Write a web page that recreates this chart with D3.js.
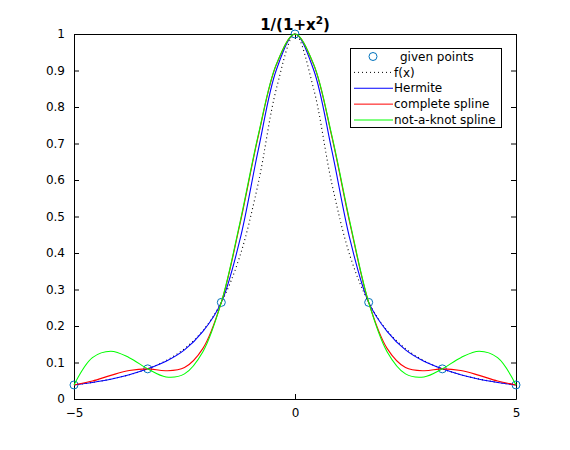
<!DOCTYPE html>
<html>
<head>
<meta charset="utf-8">
<script src="https://cdn.jsdelivr.net/npm/d3@7"></script>
<style>
  body { margin: 0; background: #fff; }
  svg { display: block; font-family: "DejaVu Sans", sans-serif; }
</style>
</head>
<body>
<svg id="chart" width="570" height="450"></svg>
<script>
// ---- data ----
const nodeX = [-5, -3.333, -1.667, 0, 1.667, 3.333, 5];
const nodeY = [0.0385, 0.0826, 0.2647, 1, 0.2647, 0.0826, 0.0385];

const xs = [-5, -4.583, -4.167, -3.75, -3.333, -2.917, -2.5, -2.083, -1.667, -1.25, -0.833, -0.417, 0,
            0.417, 0.833, 1.25, 1.667, 2.083, 2.5, 2.917, 3.333, 3.75, 4.167, 4.583, 5];
const fx = [0.0385, 0.0454, 0.0545, 0.0664, 0.0826, 0.1052, 0.1379, 0.1873, 0.2647, 0.3902, 0.5902, 0.8521, 1,
            0.8521, 0.5902, 0.3902, 0.2647, 0.1873, 0.1379, 0.1052, 0.0826, 0.0664, 0.0545, 0.0454, 0.0385];
const hermite = [0.0385, 0.0453, 0.0541, 0.0662, 0.0826, 0.1034, 0.1345, 0.1851, 0.2647, 0.4343, 0.6810, 0.9034, 1,
            0.9034, 0.6810, 0.4343, 0.2647, 0.1851, 0.1345, 0.1034, 0.0826, 0.0662, 0.0541, 0.0453, 0.0385];
const complete = [0.0385, 0.0492, 0.0647, 0.0781, 0.0826, 0.0774, 0.0862, 0.1388, 0.2647, 0.4767, 0.7187, 0.9175, 1,
            0.9175, 0.7187, 0.4767, 0.2647, 0.1388, 0.0862, 0.0774, 0.0826, 0.0781, 0.0647, 0.0492, 0.0385];
const notAKnot = [0.0385, 0.1132, 0.1308, 0.1133, 0.0826, 0.0604, 0.0688, 0.1296, 0.2647, 0.4806, 0.7221, 0.9188, 1,
            0.9188, 0.7221, 0.4806, 0.2647, 0.1296, 0.0688, 0.0604, 0.0826, 0.1133, 0.1308, 0.1132, 0.0385];

const xTicks = [-5, 0, 5];
const yTicks = [0, 0.1, 0.2, 0.3, 0.4, 0.5, 0.6, 0.7, 0.8, 0.9, 1];
const legendLabels = ["given points", "f(x)", "Hermite", "complete spline", "not-a-knot spline"];

// ---- layout ----
const svg = d3.select("#chart");
const L = 74, R = 516, T = 34, B = 399;
const x = d3.scaleLinear().domain([-5, 5]).range([L, R]);
const y = d3.scaleLinear().domain([0, 1]).range([B, T]);
const fs = 12;

const markerColor = "#0072bd";
const series = [
  {vals: fx, color: "#000", dash: "1,3"},
  {vals: hermite, color: "#0000ff", dash: null},
  {vals: complete, color: "#ff0000", dash: null},
  {vals: notAKnot, color: "#00ff00", dash: null}
];

// axes
const gx = svg.append("g").attr("transform", `translate(0,${B})`)
  .call(d3.axisBottom(x).tickValues(xTicks).tickFormat(d3.format("d")).tickSizeInner(-5).tickSizeOuter(0).tickPadding(9));
const gxTop = svg.append("g").attr("transform", `translate(0,${T})`)
  .call(d3.axisTop(x).tickValues(xTicks).tickFormat("").tickSizeInner(-5).tickSizeOuter(0));
const gy = svg.append("g").attr("transform", `translate(${L},0)`)
  .call(d3.axisLeft(y).tickValues(yTicks).tickFormat(d => d === 0 || d === 1 ? d3.format("d")(d) : d3.format(".1f")(d)).tickSizeInner(-5).tickSizeOuter(0).tickPadding(9));
const gyR = svg.append("g").attr("transform", `translate(${R},0)`)
  .call(d3.axisRight(y).tickValues(yTicks).tickFormat("").tickSizeInner(-5).tickSizeOuter(0));
[gx, gxTop, gy, gyR].forEach(g => {
  g.selectAll("path.domain").attr("stroke", "#000").attr("stroke-width", 1);
  g.selectAll("line").attr("stroke", "#000");
  g.selectAll("text").attr("fill", "#000").attr("font-size", fs).attr("font-family", "DejaVu Sans, sans-serif");
});

// markers
svg.append("g").selectAll("circle").data(nodeX).join("circle")
  .attr("cx", (d) => x(d)).attr("cy", (d, i) => y(nodeY[i])).attr("r", 4)
  .attr("fill", "none").attr("stroke", markerColor).attr("stroke-width", 1);

// lines
const line = d3.line().x((d, i) => x(xs[i])).y(d => y(d)).curve(d3.curveCatmullRom.alpha(0.5));
series.forEach(s => {
  svg.append("path").attr("d", line(s.vals)).attr("fill", "none")
    .attr("stroke", s.color).attr("stroke-width", 1.1)
    .attr("stroke-dasharray", s.dash);
});

// title
const title = svg.append("text").attr("x", (L + R) / 2).attr("y", 29.5).attr("text-anchor", "middle")
  .attr("font-weight", "bold").attr("font-size", 15).attr("fill", "#000");
title.append("tspan").text("1/(1+x");
title.append("tspan").attr("dy", -6).attr("font-size", 10.5).text("2");
title.append("tspan").attr("dy", 6).text(")");

// legend
const lg = svg.append("g");
lg.append("rect").attr("x", 350.5).attr("y", 48.5).attr("width", 151).attr("height", 79)
  .attr("fill", "#fff").attr("stroke", "#000").attr("stroke-width", 1);
const rowY = d3.scaleLinear().domain([0, 4]).range([56.5, 120]);
legendLabels.forEach((lab, i) => {
  const yy = rowY(i);
  if (i === 0) {
    lg.append("circle").attr("cx", 373).attr("cy", yy).attr("r", 4)
      .attr("fill", "none").attr("stroke", markerColor).attr("stroke-width", 1);
  } else {
    const s = series[i - 1];
    lg.append("line").attr("x1", 354).attr("x2", 393).attr("y1", yy).attr("y2", yy)
      .attr("stroke", s.color).attr("stroke-width", 1).attr("stroke-dasharray", s.dash);
  }
  lg.append("text").attr("x", i === 0 ? 400 : 394).attr("y", yy).attr("dy", "0.35em")
    .attr("font-size", fs).attr("fill", "#000").text(lab);
});
</script>
</body>
</html>
